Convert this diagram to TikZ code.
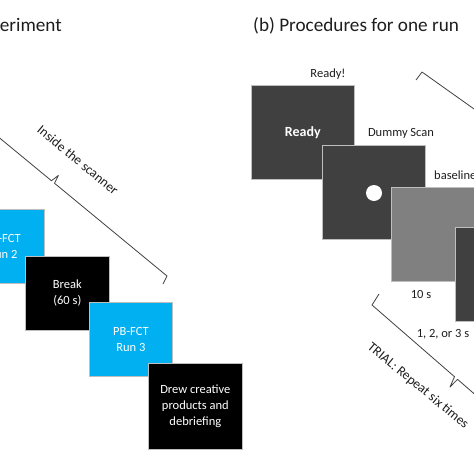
\documentclass[tikz,border=0pt]{standalone}
\usepackage{fontspec}
\setmainfont{Carlito}
\usepackage{xcolor}
\usepackage{tikz}
\usetikzlibrary{positioning,calc}
\definecolor{taskcyan}{RGB}{0, 176, 240}
\definecolor{screengray}{RGB}{64, 64, 64}
\definecolor{basegray}{RGB}{128, 128, 128}
\definecolor{edgegray}{RGB}{190, 190, 190}
\definecolor{inkgray}{RGB}{30, 30, 30}

\begin{document}
\begin{tikzpicture}[
    x=1pt, y=-1pt,
    screen/.style={draw=edgegray, line width=0.7pt, inner sep=0pt, anchor=north west, text=white, align=center, font=\fontsize{12.5}{16}\selectfont},
    taskbox/.style={screen, fill=taskcyan, minimum width=83pt, minimum height=74pt},
    restbox/.style={screen, fill=black, minimum width=84pt, minimum height=74pt},
    runbox/.style={screen, fill=screengray, minimum width=103pt, minimum height=94pt},
    cue/.style={text=inkgray, font=\fontsize{12.5}{15}\selectfont, inner sep=0pt},
    slantcue/.style={cue, rotate=-39.5, font=\fontsize{13.5}{16}\selectfont},
    heading/.style={text=inkgray, font=\fontsize{19.2}{22}\selectfont, inner sep=0pt},
    bracket/.style={draw=screengray, line width=0.8pt, line join=round}
]
    \useasboundingbox (0,0) rectangle (474,474);
    \clip (0,0) rectangle (474,474);

    % Titles
    \node[heading, anchor=base east] (ttl_a) at (62,31) {periment};
    \node[heading, anchor=base west] (ttl_b) at (253,31) {(b) Procedures for one run};

    % (a) Steps of the session
    \node[taskbox] (run2) at (-39,209) {PB-FCT\\Run 2};
    \node[restbox] (brk) at (25,256) {Break\\(60 s)};
    \node[taskbox] (run3) at (89,302) {PB-FCT\\Run 3};
    \node[restbox, minimum width=94pt, minimum height=86pt] (drew) at (148,363) {Drew creative\\products and\\debriefing};

    % Scanner bracket
    \coordinate (sc_a) at (-65,96);
    \coordinate (sc_s) at (-61,88);
    \coordinate (sc_m) at (53,182);
    \coordinate (sc_t) at (58.4,175.4);
    \coordinate (sc_e) at (167,276);
    \coordinate (sc_b) at (163,284);
    \draw[bracket] (sc_a) -- (sc_s) -- ($(sc_m)!2pt!(sc_s)$) -- (sc_t) -- ($(sc_m)!2pt!(sc_e)$) -- (sc_e) -- (sc_b);
    \node[slantcue] (scanner) at (78,160) {Inside the scanner};

    % (b) Screens of one run
    \node[runbox] (ready) at (251,85) {\fontsize{14}{16}\selectfont\bfseries Ready};
    \node[cue] (ready_lbl) at (328,74) {Ready!};
    \node[runbox] (dummy) at (322,145) {};
    \node[cue] (dummy_lbl) at (401,133) {Dummy Scan};
    \node[circle, fill=white, minimum size=16pt, inner sep=0pt] (fix) at (374,193) {};
    \node[runbox, fill=basegray] (base) at (391,187) {};
    \node[cue, anchor=west] (base_lbl) at (434,175) {baseline};
    \node[runbox] (trial) at (455,227) {};
    \node[cue] (base_dur) at (421,294) {10 s};
    \node[cue] (trial_dur) at (443,334) {1, 2, or 3 s};

    % Run bracket (top) and trial bracket (bottom)
    \coordinate (rn_a) at (416,80);
    \coordinate (rn_s) at (422,72);
    \coordinate (rn_f) at (626,217);
    \draw[bracket] (rn_a) -- (rn_s) -- (rn_f);

    \coordinate (tr_a) at (379,294);
    \coordinate (tr_s) at (372,305);
    \coordinate (tr_m) at (456,378);
    \coordinate (tr_t) at (450,387);
    \coordinate (tr_e) at (540,451);
    \coordinate (tr_b) at (547,440);
    \draw[bracket] (tr_a) -- (tr_s) -- ($(tr_m)!2pt!(tr_s)$) -- (tr_t) -- ($(tr_m)!2pt!(tr_e)$) -- (tr_e) -- (tr_b);
    \node[slantcue] (trial_lbl) at (418,386) {TRIAL: Repeat six times};

\end{tikzpicture}
\end{document}
